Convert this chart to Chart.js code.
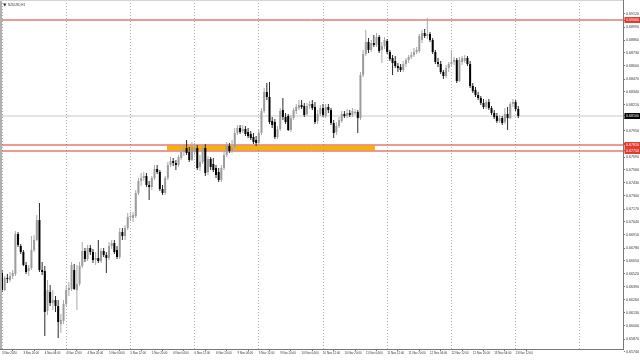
<!DOCTYPE html>
<html><head><meta charset="utf-8">
<script src="https://cdn.jsdelivr.net/npm/chart.js@4.4.1/dist/chart.umd.min.js"></script>
<style>
html,body{margin:0;padding:0;background:#fff;overflow:hidden}
#wrap{position:relative;width:640px;height:360px;background:#fff}
canvas{position:absolute;left:0;top:0}
#lb{position:absolute;left:0;top:0;width:2px;height:349px;background:#b0b0b0}
#tb{position:absolute;left:0;top:0;width:623px;height:1px;background:#d4d4d4}
</style></head><body>
<div id="wrap"><canvas id="c" width="640" height="360"></canvas><div id="lb"></div><div id="tb"></div></div>
<script>
// Time axis labels (every 8 H1 bars) and their bar positions
const timeLabels = ["3 Nov 2020","3 Nov 20:00","4 Nov 04:00","4 Nov 12:00","4 Nov 20:00","5 Nov 04:00","5 Nov 12:00","5 Nov 20:00","6 Nov 04:00","6 Nov 12:00","6 Nov 20:00","9 Nov 04:00","9 Nov 12:00","9 Nov 20:00","10 Nov 04:00","10 Nov 12:00","10 Nov 20:00","11 Nov 04:00","11 Nov 12:00","11 Nov 20:00","12 Nov 04:00","12 Nov 12:00","12 Nov 20:00","13 Nov 04:00","13 Nov 12:00"];
const labelBars = [0,8,16,24,32,40,48,56,64,72,80,88,96,104,112,120,128,136,144,152,160,168,176,184,192];
const dayStartBars = [12,36,60,84,108,132,156,180,204];

// NZDUSD H1 candles
const opens = [
0.6653,0.6636,0.6648,0.6646,0.6650,0.6652,0.6692,0.6680,0.6674,0.6661,
0.6655,0.6658,0.6676,0.6686,0.6706,0.6656,0.6655,0.6615,0.6634,0.6623,
0.6626,0.6620,0.6602,0.6605,0.6622,0.6636,0.6637,0.6656,0.6636,0.6642,
0.6660,0.6675,0.6667,0.6678,0.6674,0.6666,0.6668,0.6665,0.6675,0.6671,
0.6668,0.6680,0.6683,0.6676,0.6669,0.6694,0.6690,0.6698,0.6709,0.6708,
0.6710,0.6733,0.6745,0.6748,0.6750,0.6741,0.6739,0.6748,0.6757,0.6754,
0.6737,0.6733,0.6748,0.6761,0.6765,0.6763,0.6761,0.6768,0.6774,0.6778,
0.6774,0.6766,0.6774,0.6778,0.6759,0.6764,0.6778,0.6754,0.6767,0.6762,
0.6758,0.6754,0.6746,0.6758,0.6771,0.6780,0.6775,0.6779,0.6793,0.6798,
0.6795,0.6797,0.6794,0.6792,0.6789,0.6786,0.6783,0.6793,0.6815,0.6834,
0.6829,0.6805,0.6804,0.6789,0.6797,0.6816,0.6809,0.6810,0.6796,0.6808,
0.6815,0.6818,0.6821,0.6820,0.6812,0.6820,0.6822,0.6819,0.6805,0.6812,
0.6818,0.6810,0.6819,0.6816,0.6803,0.6794,0.6800,0.6805,0.6812,0.6810,
0.6813,0.6811,0.6813,0.6814,0.6808,0.6851,0.6872,0.6884,0.6876,0.6883,
0.6881,0.6889,0.6876,0.6880,0.6885,0.6874,0.6868,0.6865,0.6860,0.6859,
0.6856,0.6862,0.6866,0.6869,0.6871,0.6874,0.6875,0.6886,0.6893,0.6890,
0.6892,0.6886,0.6874,0.6864,0.6862,0.6854,0.6850,0.6858,0.6862,0.6864,
0.6866,0.6845,0.6864,0.6865,0.6868,0.6862,0.6840,0.6836,0.6831,0.6828,
0.6823,0.6819,0.6824,0.6818,0.6813,0.6810,0.6805,0.6808,0.6804,0.6812,
0.6808,0.6822,0.6824,0.6817];
const highs = [
0.6656,0.6650,0.6652,0.6654,0.6656,0.6695,0.6694,0.6682,0.6676,0.6664,
0.6661,0.6690,0.6691,0.6711,0.6723,0.6664,0.6660,0.6646,0.6641,0.6636,
0.6630,0.6626,0.6612,0.6626,0.6640,0.6644,0.6664,0.6662,0.6661,0.6664,
0.6684,0.6678,0.6681,0.6681,0.6677,0.6674,0.6686,0.6678,0.6678,0.6674,
0.6684,0.6686,0.6686,0.6680,0.6698,0.6698,0.6701,0.6713,0.6714,0.6714,
0.6736,0.6748,0.6753,0.6754,0.6753,0.6745,0.6750,0.6761,0.6761,0.6756,
0.6741,0.6750,0.6764,0.6769,0.6768,0.6766,0.6771,0.6778,0.6781,0.6786,
0.6779,0.6784,0.6783,0.6781,0.6771,0.6781,0.6782,0.6770,0.6769,0.6768,
0.6761,0.6758,0.6761,0.6776,0.6784,0.6783,0.6786,0.6798,0.6801,0.6801,
0.6801,0.6800,0.6798,0.6795,0.6793,0.6790,0.6796,0.6818,0.6838,0.6843,
0.6844,0.6809,0.6807,0.6800,0.6818,0.6828,0.6813,0.6812,0.6811,0.6818,
0.6822,0.6826,0.6826,0.6823,0.6823,0.6825,0.6826,0.6824,0.6816,0.6821,
0.6822,0.6822,0.6822,0.6818,0.6806,0.6804,0.6809,0.6815,0.6815,0.6817,
0.6816,0.6818,0.6817,0.6816,0.6854,0.6876,0.6896,0.6888,0.6886,0.6891,
0.6893,0.6891,0.6884,0.6889,0.6887,0.6876,0.6871,0.6870,0.6863,0.6862,
0.6865,0.6868,0.6871,0.6874,0.6878,0.6879,0.6892,0.6896,0.6897,0.6908,
0.6894,0.6888,0.6876,0.6868,0.6865,0.6856,0.6861,0.6864,0.6876,0.6869,
0.6868,0.6869,0.6870,0.6871,0.6870,0.6865,0.6843,0.6839,0.6834,0.6830,
0.6827,0.6826,0.6827,0.6820,0.6816,0.6813,0.6811,0.6810,0.6818,0.6819,
0.6824,0.6827,0.6826,0.6820];
const lows = [
0.6634,0.6635,0.6643,0.6644,0.6647,0.6650,0.6679,0.6672,0.6660,0.6652,
0.6650,0.6656,0.6674,0.6685,0.6654,0.6651,0.6590,0.6611,0.6620,0.6616,
0.6614,0.6588,0.6593,0.6602,0.6620,0.6630,0.6635,0.6636,0.6616,0.6640,
0.6658,0.6664,0.6665,0.6671,0.6663,0.6661,0.6663,0.6663,0.6669,0.6653,
0.6666,0.6677,0.6672,0.6667,0.6667,0.6686,0.6686,0.6696,0.6705,0.6704,
0.6708,0.6731,0.6740,0.6745,0.6739,0.6726,0.6736,0.6746,0.6752,0.6735,
0.6731,0.6731,0.6746,0.6759,0.6760,0.6756,0.6759,0.6766,0.6770,0.6771,
0.6764,0.6765,0.6771,0.6756,0.6755,0.6762,0.6750,0.6751,0.6756,0.6754,
0.6748,0.6744,0.6744,0.6756,0.6769,0.6773,0.6773,0.6777,0.6791,0.6792,
0.6793,0.6790,0.6788,0.6786,0.6782,0.6780,0.6781,0.6791,0.6813,0.6826,
0.6802,0.6798,0.6787,0.6787,0.6795,0.6806,0.6802,0.6795,0.6794,0.6806,
0.6812,0.6816,0.6817,0.6809,0.6810,0.6817,0.6816,0.6802,0.6802,0.6810,
0.6809,0.6808,0.6813,0.6801,0.6788,0.6791,0.6798,0.6803,0.6808,0.6808,
0.6809,0.6809,0.6811,0.6793,0.6806,0.6849,0.6870,0.6873,0.6874,0.6879,
0.6879,0.6873,0.6863,0.6877,0.6872,0.6865,0.6851,0.6858,0.6854,0.6854,
0.6854,0.6859,0.6863,0.6867,0.6869,0.6872,0.6873,0.6883,0.6888,0.6887,
0.6884,0.6872,0.6862,0.6859,0.6852,0.6847,0.6848,0.6854,0.6860,0.6861,
0.6843,0.6844,0.6861,0.6863,0.6860,0.6838,0.6833,0.6829,0.6826,0.6821,
0.6817,0.6817,0.6816,0.6811,0.6807,0.6803,0.6803,0.6801,0.6802,0.6796,
0.6807,0.6819,0.6815,0.6808];
const closes = [
0.6636,0.6648,0.6647,0.6650,0.6653,0.6692,0.6681,0.6674,0.6661,0.6654,
0.6658,0.6676,0.6686,0.6706,0.6656,0.6654,0.6614,0.6636,0.6623,0.6626,
0.6620,0.6604,0.6606,0.6622,0.6636,0.6638,0.6661,0.6637,0.6642,0.6660,
0.6675,0.6667,0.6678,0.6674,0.6666,0.6668,0.6665,0.6675,0.6671,0.6668,
0.6680,0.6683,0.6674,0.6669,0.6694,0.6690,0.6698,0.6709,0.6710,0.6711,
0.6733,0.6745,0.6748,0.6750,0.6741,0.6739,0.6748,0.6757,0.6754,0.6737,
0.6733,0.6748,0.6761,0.6765,0.6763,0.6761,0.6769,0.6774,0.6776,0.6773,
0.6766,0.6779,0.6778,0.6758,0.6764,0.6778,0.6753,0.6767,0.6759,0.6756,
0.6751,0.6746,0.6758,0.6771,0.6780,0.6775,0.6778,0.6793,0.6798,0.6794,
0.6797,0.6792,0.6790,0.6788,0.6784,0.6783,0.6793,0.6815,0.6834,0.6829,
0.6804,0.6801,0.6789,0.6797,0.6815,0.6809,0.6804,0.6796,0.6808,0.6816,
0.6819,0.6821,0.6819,0.6811,0.6820,0.6822,0.6818,0.6804,0.6812,0.6818,
0.6811,0.6819,0.6816,0.6803,0.6793,0.6800,0.6806,0.6812,0.6810,0.6813,
0.6811,0.6815,0.6814,0.6808,0.6851,0.6872,0.6884,0.6876,0.6883,0.6881,
0.6889,0.6875,0.6880,0.6886,0.6874,0.6867,0.6863,0.6860,0.6858,0.6856,
0.6862,0.6866,0.6869,0.6871,0.6874,0.6876,0.6890,0.6893,0.6890,0.6892,
0.6886,0.6874,0.6864,0.6862,0.6854,0.6850,0.6858,0.6862,0.6864,0.6866,
0.6845,0.6866,0.6868,0.6868,0.6862,0.6840,0.6835,0.6831,0.6828,0.6823,
0.6819,0.6824,0.6818,0.6813,0.6809,0.6805,0.6808,0.6803,0.6812,0.6808,
0.6822,0.6824,0.6817,0.6810];

// Price scale tick labels
const priceTicks = [0.6912,0.6899,0.6886,0.6873,0.6860,0.6847,0.6834,0.6821,0.6808,0.6795,0.6782,0.6769,0.6756,0.6743,0.6730,0.6717,0.6704,0.6691,0.6678,0.6665,0.6652,0.6639,0.6626,0.6613,0.6600,0.6587,0.6574];

// Drawn levels
const resistanceLevel = 0.6906;
const zoneTopLevel = 0.6781;
const zoneBottomLevel = 0.6775;
const zoneFill = [0.67803, 0.67757];
const zoneBars = [61.7, 139.4];
const bidPrice = 0.6810;
const markedLevels = [resistanceLevel, zoneTopLevel, zoneBottomLevel, bidPrice];

const xMin = -0.75, xMax = 232.15;
const yMin = 0.6577, yMax = 0.6926;

const isBull = closes.map((c, i) => c >= opens[i]);
const bodyData = closes.map((c, i) => ({x: i, y: [opens[i], c]}));
const wickData = highs.map((h, i) => ({x: i, y: [lows[i], h]}));
const hLine = (v) => [{x: xMin - 5, y: v}, {x: xMax + 5, y: v}];

const titlePlugin = {
  id: 'symbolTitle',
  afterDraw(chart) {
    const ctx = chart.ctx;
    ctx.save();
    ctx.fillStyle = '#333';
    ctx.beginPath(); ctx.moveTo(3, 3.5); ctx.lineTo(6.5, 3.5); ctx.lineTo(4.75, 6.5); ctx.closePath(); ctx.fill();
    ctx.font = '3px "Liberation Sans", Arial, sans-serif';
    ctx.textBaseline = 'middle';
    ctx.fillText('NZDUSD,H1', 8, 5);
    ctx.restore();
  }
};

const nReg = priceTicks.length;
new Chart(document.getElementById('c'), {
  type: 'bar',
  data: {
    datasets: [
      {type: 'line', data: [{x: zoneBars[0], y: zoneFill[0]}, {x: zoneBars[1], y: zoneFill[0]}], borderWidth: 0, borderColor: 'rgba(0,0,0,0)', pointRadius: 0, fill: '+1', backgroundColor: '#f6b300', order: 10, xAxisID: 'x', yAxisID: 'y'},
      {type: 'line', data: [{x: zoneBars[0], y: zoneFill[1]}, {x: zoneBars[1], y: zoneFill[1]}], borderWidth: 0, borderColor: 'rgba(0,0,0,0)', pointRadius: 0, fill: false, order: 10, xAxisID: 'x', yAxisID: 'y'},
      {type: 'line', data: hLine(bidPrice), borderColor: '#c8c8c8', borderWidth: 1, pointRadius: 0, fill: false, order: 8, xAxisID: 'x', yAxisID: 'y'},
      {type: 'line', data: hLine(resistanceLevel), borderColor: '#d8392f', borderWidth: 1, pointRadius: 0, fill: false, order: 6, xAxisID: 'x', yAxisID: 'y'},
      {type: 'line', data: hLine(zoneTopLevel), borderColor: '#d8392f', borderWidth: 1, pointRadius: 0, fill: false, order: 6, xAxisID: 'x', yAxisID: 'y'},
      {type: 'line', data: hLine(zoneBottomLevel), borderColor: '#d8392f', borderWidth: 1, pointRadius: 0, fill: false, order: 6, xAxisID: 'x', yAxisID: 'y'},
      {label: 'wick', data: wickData, backgroundColor: isBull.map(b => b ? '#a8a8a8' : '#2a2a2a'), barThickness: 1, grouped: false, borderWidth: 0, inflateAmount: 0, order: 2, xAxisID: 'x', yAxisID: 'y'},
      {label: 'body', data: bodyData, backgroundColor: isBull.map(b => b ? '#9c9c9c' : '#000000'), barThickness: 2, grouped: false, borderWidth: 0, inflateAmount: 0, order: 1, xAxisID: 'x', yAxisID: 'y'}
    ]
  },
  options: {
    responsive: false, animation: false, devicePixelRatio: 1,
    layout: {padding: 0},
    plugins: {legend: {display: false}, tooltip: {enabled: false}, title: {display: false}},
    scales: {
      x: {
        type: 'linear', position: 'bottom', min: xMin, max: xMax, offset: false,
        afterBuildTicks: s => { s.ticks = labelBars.map(v => ({value: v})); },
        afterFit: s => { s.height = 11; s.paddingLeft = 0; s.paddingRight = 0; },
        ticks: {autoSkip: false, maxRotation: 0, minRotation: 0, align: 'start', padding: 0, color: '#333',
          font: {size: 2.9, family: '"Liberation Sans", Arial, sans-serif'},
          callback: (v, i) => timeLabels[i]},
        grid: {drawOnChartArea: false, drawTicks: true, tickLength: 2, color: '#777'},
        border: {display: true, color: '#777'}
      },
      x2: {
        type: 'linear', position: 'top', min: xMin, max: xMax, offset: false,
        afterBuildTicks: s => { s.ticks = dayStartBars.map(v => ({value: v})); },
        afterFit: s => { s.height = 0; s.paddingLeft = 0; s.paddingRight = 0; },
        ticks: {display: false},
        grid: {drawOnChartArea: true, drawTicks: false, color: '#b0b0b0', lineWidth: 1},
        border: {display: false, dash: [1, 2]}
      },
      y: {
        type: 'linear', position: 'right', min: yMin, max: yMax,
        afterBuildTicks: s => { s.ticks = priceTicks.concat(markedLevels).map(v => ({value: v})); },
        afterFit: s => { s.width = 17; s.paddingTop = 0; s.paddingBottom = 0; },
        ticks: {
          autoSkip: false, padding: 1,
          font: {size: 3.6, family: '"Liberation Sans", Arial, sans-serif'},
          color: ctx => ctx.index >= nReg ? '#ffffff' : '#333',
          showLabelBackdrop: ctx => ctx.index >= nReg,
          backdropColor: ctx => (ctx.index >= nReg && ctx.tick && ctx.tick.value === bidPrice) ? '#000000' : '#e0382c',
          backdropPadding: {x: 1.5, y: 0.8},
          callback: v => Number(v).toFixed(5)
        },
        grid: {drawOnChartArea: false, drawTicks: true, tickLength: 2, color: '#777'},
        border: {display: true, color: '#777'}
      }
    }
  },
  plugins: [titlePlugin]
});
</script>
</body></html>
